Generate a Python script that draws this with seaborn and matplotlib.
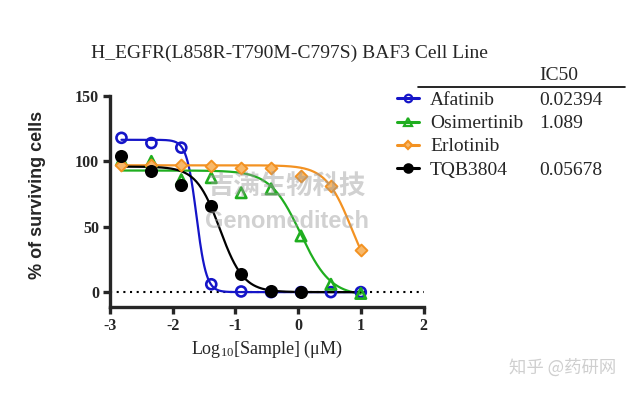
import numpy as np
import pandas as pd
import matplotlib
matplotlib.use("Agg")
import matplotlib.pyplot as plt
import seaborn as sns
from matplotlib.lines import Line2D

# ---------------- data ----------------
log_conc = [-2.817, -2.340, -1.863, -1.385, -0.908, -0.431, 0.046, 0.523, 1.000]
afatinib = [118, 114, 110.5, 6, 0.5, 0, 0, 0, 0]
osimertinib = [101, 100, 86, 87.5, 76, 79, 43, 6, -1]
erlotinib = [97, 97, 97, 96.7, 95, 95, 88.5, 81, 32]
tqb3804 = [104, 92.6, 82, 66, 14, 0.5, 0]

names = ["Afatinib", "Osimertinib", "Erlotinib", "TQB3804"]
ic50_labels = ["0.02394", "1.089", "", "0.05678"]

fit_top = [116.5, 93, 97, 96]
fit_bottom = [0, -3, 0, 0]
fit_log_ic50 = [-1.621, 0.037, 0.855, -1.246]
fit_hill = [5.5, 1.8, 2.1, 2.3]

x_ticks = [-3, -2, -1, 0, 1, 2]
y_ticks = [0, 50, 100, 150]
title = "H_EGFR(L858R-T790M-C797S) BAF3 Cell Line"

# ---------------- styling ----------------
sns.set_style("ticks")
plt.rcParams["font.family"] = ["Liberation Serif", "DejaVu Sans"]
plt.rcParams["axes.unicode_minus"] = False
plt.rcParams["mathtext.fontset"] = "custom"
plt.rcParams["mathtext.rm"] = "Liberation Serif"

colors = ["#1515c8", "#1fae1f", "#f39222", "#000000"]
faces = ["none", "none", "#f7b86a", "#000000"]
markers = ["o", "^", "D", "o"]
msizes = [7.2, 7.5, 6.0, 8.0]
series = [afatinib, osimertinib, erlotinib, tqb3804]

W, H = 641, 395
fig = plt.figure(figsize=(W / 100, H / 100), dpi=100)
ax = fig.add_axes([110 / W, 1 - 306.5 / H, (423.5 - 110) / W, (306.5 - 96) / H])

# watermark
fig.text(287 / W, 1 - 187 / H, "吉满生物科技", family=["Noto Sans CJK SC"], fontsize=19,
         fontweight="bold", color="#9a9a9a", alpha=0.45, ha="center", va="center", zorder=0)
fig.text(287.5 / W, 1 - 222 / H, "Genomeditech", family=["Liberation Sans"], fontsize=17,
         fontweight="bold", color="#9a9a9a", alpha=0.45, ha="center", va="center", zorder=0)
fig.text(563 / W, 1 - 368 / H, "知乎 @药研网", family=["Noto Sans CJK SC", "DejaVu Sans"],
         fontsize=12.5, color="#cfcfcf", ha="center", va="center")

ax.axhline(0, color="black", lw=1.5, ls=(0, (1, 2.2)), zorder=1)

order = [3, 2, 1, 0]
for i in order:
    xs = np.linspace(log_conc[0], log_conc[-1], 400)
    ys = fit_bottom[i] + (fit_top[i] - fit_bottom[i]) / (1 + 10 ** ((xs - fit_log_ic50[i]) * fit_hill[i]))
    sns.lineplot(x=xs, y=ys, color=colors[i], lw=1.6, ax=ax, zorder=2 + i * 0.1)
for i in order:
    vals = series[i]
    df = pd.DataFrame({"x": log_conc[:len(vals)], "y": vals})
    sns.scatterplot(data=df, x="x", y="y", marker=markers[i], s=msizes[i] ** 2,
                    facecolor=faces[i], edgecolor=colors[i],
                    linewidth=1.9 if faces[i] == "none" else 1.4, ax=ax,
                    zorder=3 + i * 0.1, clip_on=False)

ax.set_xlim(-3, 2)
ax.set_ylim(-11, 150)
ax.set_xticks(x_ticks)
ax.set_yticks(y_ticks)
ax.set_xticklabels([str(t) for t in x_ticks])
ax.set_yticklabels([str(t) for t in y_ticks])
ax.set_xlabel("")
ax.set_ylabel("")
sns.despine(ax=ax)
for s in ["left", "bottom"]:
    ax.spines[s].set_linewidth(2.4)
ax.tick_params(direction="out", length=5, width=2.4, pad=3, labelsize=11.5)
for lab in ax.get_xticklabels() + ax.get_yticklabels():
    lab.set_fontweight("bold")
    lab.set_family("Liberation Serif")

# labels
fig.text(90.7 / W, 1 - 58 / H, title, fontsize=14, ha="left", va="baseline")
fig.text(37.5 / W, 1 - 195 / H, "% of surviving cells", family=["Liberation Sans"],
         fontweight="bold", fontsize=13, rotation=90, ha="center", va="center")
fig.text(267 / W, 1 - 354 / H, r"$\mathregular{Log_{10}}$[Sample] (μM)", fontsize=13,
         ha="center", va="baseline")

# legend with IC50 column
fig.text(539 / W, 1 - 79.5 / H, "IC50", fontsize=14, ha="left", va="baseline")
fig.add_artist(Line2D([418 / W, 625 / W], [1 - 86.7 / H, 1 - 86.7 / H], color="black",
                      lw=1.2, transform=fig.transFigure))
for i, name in enumerate(names):
    yc = 98.3 + 23.3 * i
    yf = 1 - yc / H
    fig.add_artist(Line2D([396.7 / W, 419.3 / W], [yf, yf], color=colors[i], lw=2.2,
                          transform=fig.transFigure))
    fig.add_artist(Line2D([408 / W], [yf], color=colors[i], marker=markers[i],
                          markersize=msizes[i] * 0.75,
                          markerfacecolor=faces[i],
                          markeredgecolor=colors[i], markeredgewidth=1.6,
                          transform=fig.transFigure))
    fig.text(430 / W, 1 - (yc + 6.5) / H, name, fontsize=14, ha="left", va="baseline")
    if ic50_labels[i]:
        fig.text(539 / W, 1 - (yc + 6.5) / H, ic50_labels[i], fontsize=14, ha="left",
                 va="baseline")

fig.savefig("out.png", dpi=100, facecolor="white")
